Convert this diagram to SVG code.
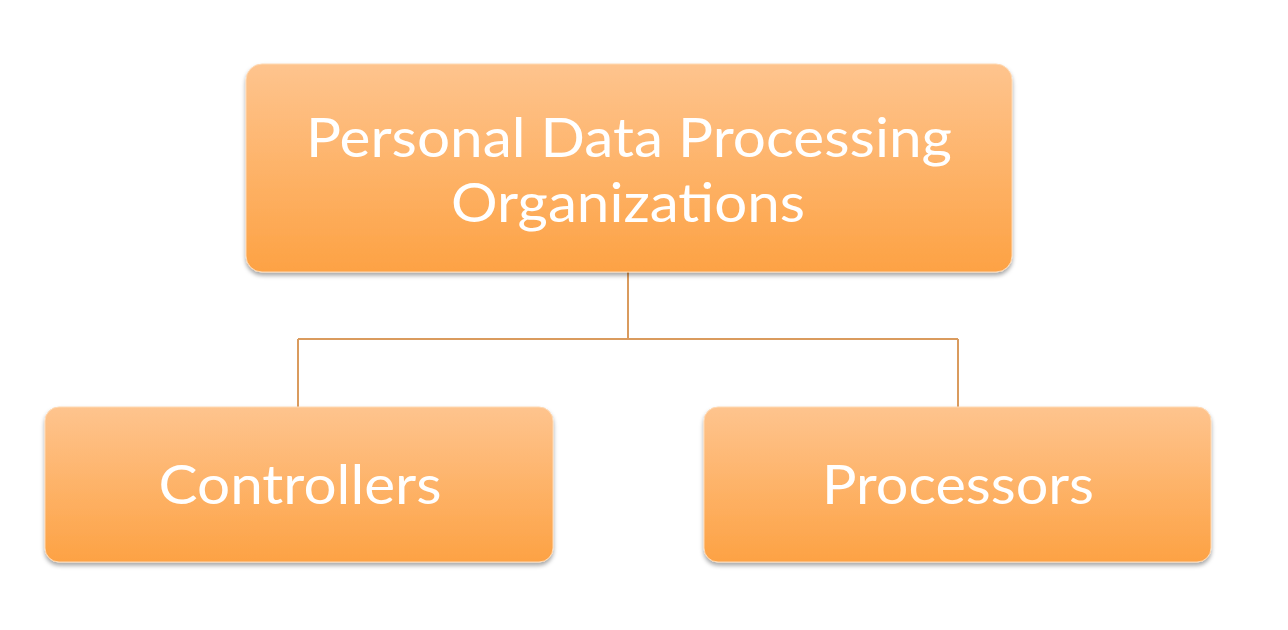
<svg xmlns="http://www.w3.org/2000/svg" width="1288" height="630" viewBox="0 0 1288 630">
  <defs>
    <linearGradient id="boxGrad" x1="0" y1="0" x2="0" y2="1">
      <stop offset="0" stop-color="#FEC48E"/>
      <stop offset="1" stop-color="#FDA244"/>
    </linearGradient>
    <filter id="shadow" x="-5%" y="-10%" width="110%" height="125%">
      <feDropShadow dx="0" dy="3" stdDeviation="2.2" flood-color="#000" flood-opacity="0.35"/>
    </filter>
    <style>
      .box { fill: url(#boxGrad); stroke: #FED9B4; stroke-width: 1; filter: url(#shadow); }
      .label { font-family: Lato, "Open Sans", "Liberation Sans", sans-serif; font-size: 54px; fill: #FFFFFF; text-anchor: middle; }
      .conn { fill: none; stroke: #DA9B5E; stroke-width: 2; }
    </style>
  </defs>
  <rect width="1288" height="630" fill="#FFFFFF"/>
  <g id="connectors">
    <path class="conn" d="M628 272 V339 M298 339 H958 M298 339 V407 M958 339 V407"/>
  </g>
  <g id="node-root">
    <rect class="box" x="246" y="64" width="766" height="208" rx="16" ry="16"/>
    <text class="label"><tspan x="629" y="157" textLength="646" lengthAdjust="spacingAndGlyphs">Personal Data Processing</tspan><tspan x="628" y="222" textLength="354" lengthAdjust="spacingAndGlyphs">Organizations</tspan></text>
  </g>
  <g id="node-controllers">
    <rect class="box" x="45" y="407" width="508" height="155" rx="14" ry="14"/>
    <text class="label" x="300" y="504" textLength="283" lengthAdjust="spacingAndGlyphs">Controllers</text>
  </g>
  <g id="node-processors">
    <rect class="box" x="704" y="407" width="507" height="155" rx="14" ry="14"/>
    <text class="label" x="958" y="504" textLength="272" lengthAdjust="spacingAndGlyphs">Processors</text>
  </g>
</svg>
